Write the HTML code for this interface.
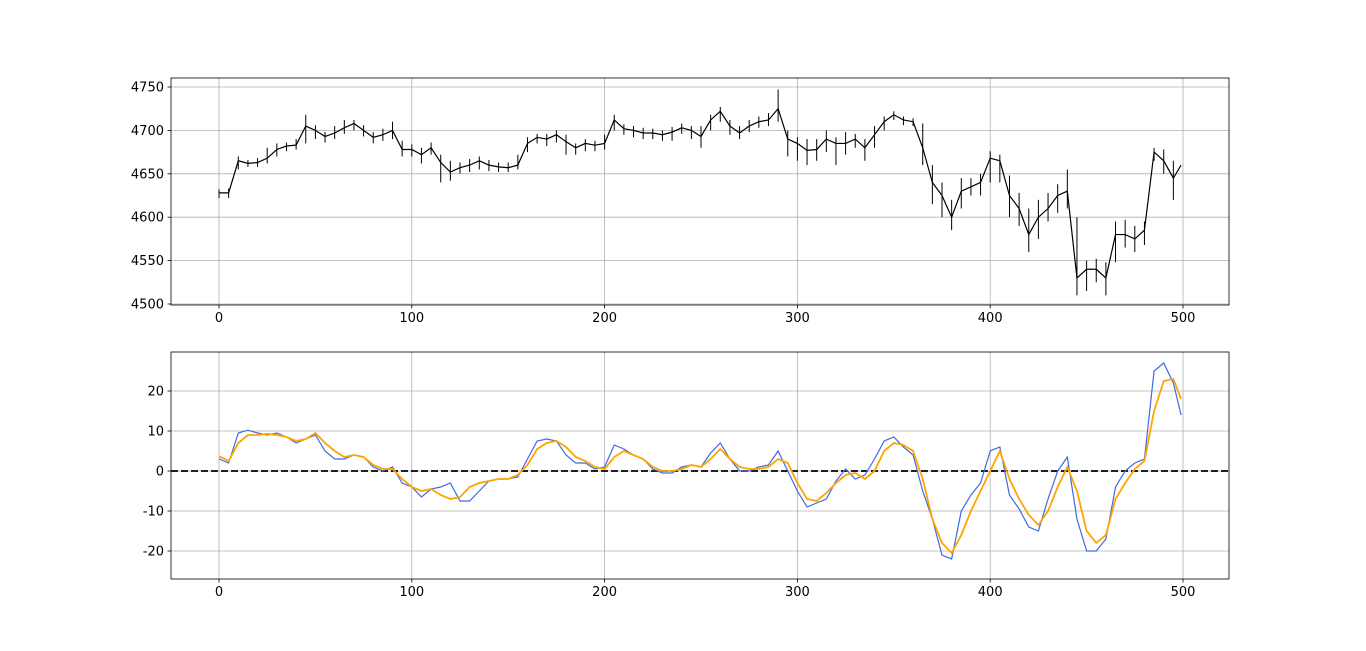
<!DOCTYPE html>
<html><head><meta charset="utf-8">
<style>
html,body{margin:0;padding:0;background:#fff;width:1366px;height:651px;overflow:hidden}
svg{display:block;font-family:"DejaVu Sans","Liberation Sans",sans-serif}
</style></head>
<body>
<svg id="chart" width="1366" height="651" viewBox="0 0 1366 651" xmlns="http://www.w3.org/2000/svg"></svg>
<script>
const idx = [];
for (let i = 0; i <= 100; i++) idx.push(i * 5);
const closeVals = [4628,4628,4665,4662,4663,4668,4678,4682,4683,4705,4700,4693,4697,4703,4708,4700,4692,4695,4700,4678,4678,4672,4680,4663,4652,4657,4660,4665,4660,4658,4657,4660,4685,4692,4690,4695,4687,4680,4685,4683,4685,4712,4702,4700,4697,4697,4695,4698,4703,4700,4693,4712,4722,4705,4697,4705,4710,4712,4725,4690,4685,4677,4678,4690,4685,4685,4690,4680,4695,4710,4718,4712,4710,4680,4640,4625,4600,4630,4635,4640,4668,4665,4625,4610,4580,4600,4610,4625,4630,4530,4540,4540,4530,4580,4580,4575,4585,4675,4665,4645,4660];
const highVals = [4632,4633,4670,4666,4668,4680,4685,4686,4690,4718,4706,4698,4705,4712,4712,4706,4698,4702,4710,4688,4684,4680,4686,4672,4665,4663,4667,4670,4666,4663,4663,4672,4692,4696,4696,4700,4695,4685,4690,4688,4695,4718,4707,4705,4703,4702,4700,4704,4708,4705,4705,4718,4727,4712,4705,4712,4716,4720,4747,4700,4692,4690,4690,4700,4692,4698,4696,4690,4705,4716,4722,4716,4714,4708,4660,4640,4620,4645,4645,4650,4676,4672,4648,4628,4610,4620,4628,4638,4655,4600,4550,4552,4548,4595,4597,4590,4595,4680,4678,4665,4672];
const lowVals = [4622,4622,4655,4658,4658,4662,4670,4676,4678,4685,4690,4686,4690,4696,4700,4693,4685,4688,4690,4670,4670,4662,4672,4640,4642,4650,4652,4655,4653,4652,4652,4655,4675,4685,4682,4686,4672,4672,4676,4676,4678,4700,4695,4692,4690,4690,4688,4688,4696,4690,4680,4700,4710,4695,4690,4698,4703,4705,4710,4670,4665,4660,4665,4675,4660,4672,4680,4665,4680,4700,4712,4706,4705,4660,4615,4600,4585,4610,4625,4625,4640,4640,4600,4590,4560,4575,4595,4605,4610,4510,4515,4525,4510,4548,4565,4560,4568,4665,4650,4620,4600];
const oscVals = [3,2,9.5,10.2,9.5,9,9.5,8.5,7,8,9,5,3,3,4,3.5,1,0,1,-3,-4,-6.5,-4.5,-4,-3,-7.5,-7.5,-5,-2.5,-2,-2,-1.5,3,7.5,8,7.5,4,2,2,0.5,1,6.5,5.5,4,3,0.5,-0.5,-0.5,1,1.5,1,4.5,7,3,0,0,1,1.5,5,0,-5,-9,-8,-7,-2.5,0.5,-2,-1,3,7.5,8.5,6,4,-5,-12,-21,-22,-10,-6,-3,5,6,-6,-9.5,-14,-15,-7,0,3.5,-12,-20,-20,-17,-4,0,2,3,25,27,22,14];
const sigVals = [3.7,2.5,7,9,9,9.3,9,8.5,7.5,8,9.5,7,5,3.5,4,3.5,1.5,0.5,0.5,-2,-4,-5,-4.5,-6,-7,-6.5,-4,-3,-2.5,-2,-2,-1,1.5,5.5,7,7.5,6,3.5,2.5,1,0.5,3.5,5,4,3,1,0,0,0.5,1.5,1,3,5.5,3,1,0.5,0.5,1,3,2,-3,-7,-7.5,-5.5,-3,-1,-0.5,-2,0,5,7,6.5,5,-2,-12,-18,-20.5,-16,-10,-5,0,5,-2,-7,-11,-13.5,-10,-4,1,-5,-15,-18,-16,-7,-3,0.5,2.5,15,22.5,23,18];
const xTicks = [0,100,200,300,400,500];
const topYTicks = [4500,4550,4600,4650,4700,4750];
const botYTicks = [-20,-10,0,10,20];

const svg = document.getElementById('chart');
const NS = 'http://www.w3.org/2000/svg';
function mk(tag, attrs, parent) {
  const e = document.createElementNS(NS, tag);
  for (const k in attrs) e.setAttribute(k, attrs[k]);
  (parent || svg).appendChild(e);
  return e;
}
const L = 171, R = 1229;
const xs = v => 219 + v * (1183 - 219) / 500;
const yTop = v => 87 + (4750 - v) * (304 - 87) / 250;
const yBot = v => 471 - v * 4;

function axesPanel(top, bottom, yTicks, yFn, name) {
  const g = mk('g', {});
  
  
  xTicks.forEach(t => {
    const x = xs(t);
    const gl = mk('line', {x1: x, x2: x, y1: top, y2: bottom, stroke: '#b0b0b0', 'stroke-width': 0.8}, g);
    
    
    mk('line', {x1: x, x2: x, y1: bottom, y2: bottom + 3.5, stroke: '#000', 'stroke-width': 0.8}, g);
    const tx = mk('text', {x: x, y: bottom + 17, 'text-anchor': 'middle', 'font-size': 13, fill: '#000'}, g);
    tx.textContent = t;
    
    
  });
  yTicks.forEach(t => {
    const y = yFn(t);
    const gl = mk('line', {x1: L, x2: R, y1: y, y2: y, stroke: '#b0b0b0', 'stroke-width': 0.8}, g);
    
    
    mk('line', {x1: L - 3.5, x2: L, y1: y, y2: y, stroke: '#000', 'stroke-width': 0.8}, g);
    const tx = mk('text', {x: L - 7, y: y + 4.5, 'text-anchor': 'end', 'font-size': 13, fill: '#000'}, g);
    tx.textContent = t;
    
    
  });
  return g;
}

axesPanel(78, 305, topYTicks, yTop, 'price-axes');
axesPanel(352, 579, botYTicks, yBot, 'oscillator-axes');

const pg = mk('g', {});


idx.forEach((t, i) => {
  if (t > 499) return;
  const b = mk('line', {x1: xs(t), x2: xs(t), y1: yTop(highVals[i]), y2: yTop(lowVals[i]), stroke: '#000', 'stroke-width': 1}, pg);
  
  
});
const pl = mk('polyline', {points: idx.map((t, i) => xs(Math.min(t, 499)) + ',' + yTop(closeVals[i])).join(' '), fill: 'none', stroke: '#000', 'stroke-width': 1.2}, pg);



const z = mk('line', {x1: L, x2: R, y1: yBot(0), y2: yBot(0), stroke: '#000', 'stroke-width': 1.8, 'stroke-dasharray': '7,3'});



const osc = mk('polyline', {points: idx.map((t, i) => xs(Math.min(t, 499)) + ',' + yBot(oscVals[i])).join(' '), fill: 'none', stroke: '#4169e1', 'stroke-width': 1.2});


const sig = mk('polyline', {points: idx.map((t, i) => xs(Math.min(t, 499)) + ',' + yBot(sigVals[i])).join(' '), fill: 'none', stroke: '#ffa500', 'stroke-width': 1.8});



[[78, 305, 'price-frame'], [352, 579, 'oscillator-frame']].forEach(f => {
  const r = mk('rect', {x: L, y: f[0], width: R - L, height: f[1] - f[0], fill: 'none', stroke: '#000', 'stroke-width': 0.8});
  
  
});
</script>
</body></html>
